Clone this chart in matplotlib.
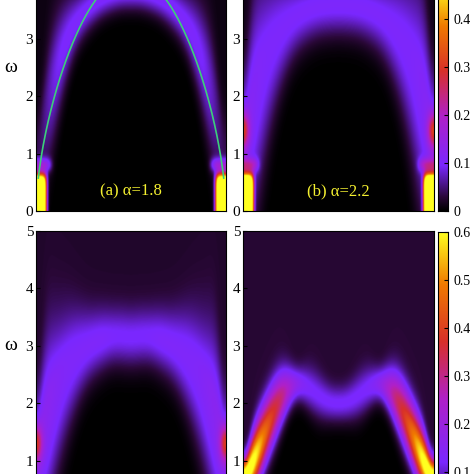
import numpy as np
import matplotlib
matplotlib.use("Agg")
import matplotlib.pyplot as plt
from matplotlib.colors import LinearSegmentedColormap

# ---- data (half-profiles, symmetric about k=0.5) ----
k_knots = [0.0, 0.05, 0.10, 0.15, 0.20, 0.25, 0.30, 0.35, 0.40, 0.45, 0.50]
# panel (a) alpha=1.8
a_center = [0.6, 1.55, 2.35, 2.9, 3.25, 3.45, 3.6, 3.7, 3.76, 3.8, 3.8]
a_width  = [0.15, 0.15, 0.16, 0.17, 0.18, 0.19, 0.2, 0.2, 0.2, 0.2, 0.2]
a_amp    = [0.02, 0.06, 0.09, 0.10, 0.10, 0.10, 0.10, 0.10, 0.10, 0.10, 0.10]
# panel (b) alpha=2.2
b_center = [0.9, 1.7, 2.35, 2.8, 3.1, 3.3, 3.42, 3.5, 3.55, 3.57, 3.58]
b_width  = [0.3, 0.32, 0.33, 0.34, 0.35, 0.35, 0.35, 0.35, 0.35, 0.35, 0.35]
b_amp    = [0.12, 0.11, 0.10, 0.10, 0.10, 0.10, 0.10, 0.10, 0.10, 0.10, 0.10]
# panel (c)
c_center = [0.7, 1.5, 2.0, 2.4, 2.7, 2.9, 3.02, 3.1, 3.15, 3.15, 3.12]
c_width  = [0.28, 0.3, 0.31, 0.32, 0.33, 0.34, 0.34, 0.34, 0.34, 0.34, 0.34]
c_amp    = [0.16, 0.15, 0.14, 0.13, 0.13, 0.13, 0.13, 0.13, 0.12, 0.12, 0.12]
# panel (d)
d_center = [0.55, 0.95, 1.35, 1.75, 2.1, 2.3, 2.35, 2.25, 2.1, 2.0, 1.98]
d_width  = [0.14, 0.14, 0.14, 0.15, 0.17, 0.2, 0.22, 0.22, 0.22, 0.22, 0.22]
d_amp    = [0.7, 0.65, 0.5, 0.38, 0.32, 0.2, 0.14, 0.12, 0.12, 0.12, 0.12]
bg_level = [0.01, 0.012, 0.03, 0.035]        # faint background above the band
corner_amp = [0.7, 0.7, 0.0, 0.0]            # yellow blocks at low omega, zone edges
edge_spot = [(0.0, 0.0), (1.4, 0.2), (1.3, 0.24), (0.0, 0.0)]  # (omega, intensity)
labels = ["(a) α=1.8", "(b) α=2.2", "", ""]
ymax = [4, 4, 5, 5]
yticks = [[0, 1, 2, 3], [0, 1, 2, 3], [1, 2, 3, 4, 5], [1, 2, 3, 4, 5]]
vmax_top, vmax_bot = 0.47, 0.6
cb_top_ticks = [0, 0.1, 0.2, 0.3, 0.4]
cb_bot_ticks = [0.1, 0.2, 0.3, 0.4, 0.5, 0.6]

cmap = LinearSegmentedColormap.from_list("pm", [
    (0.0, "#000000"), (0.06, "#2a0838"), (0.2, "#7a28ff"), (0.42, "#b020c8"),
    (0.62, "#d8302a"), (0.82, "#f07a00"), (1.0, "#ffff20")])

plt.rcParams["font.family"] = ["Liberation Serif", "DejaVu Serif"]

def smooth(y, n=15):
    k = np.exp(-0.5 * (np.arange(-3 * n, 3 * n + 1) / n) ** 2)
    k /= k.sum()
    yp = np.concatenate([y[3 * n:0:-1], y, y[-2:-3 * n - 2:-1]])
    return np.convolve(yp, k, mode="same")[3 * n:-3 * n]

def field(center, width, amp, bg, cam, spot):
    u = np.linspace(0.0, 1.0, 600)
    w = np.linspace(0, 5.2, 520)
    ud = np.minimum(u, 1 - u)
    c = smooth(np.interp(ud, k_knots, center))
    wd = smooth(np.interp(ud, k_knots, width))
    a = smooth(np.interp(ud, k_knots, amp))
    slope = smooth(np.gradient(c, u))
    scale = np.sqrt(1 + (slope / 3.3) ** 2)
    U, W = np.meshgrid(u, w)
    C = c[None, :]; S = (wd * scale)[None, :]
    I = a[None, :] * np.exp(-0.5 * ((W - C) / S) ** 2)
    I += bg * (1 / (1 + np.exp(-(W - C - 0.3) / 0.15)))
    UD = np.minimum(U, 1 - U)
    if cam > 0:
        I += cam * np.exp(-(UD / 0.055) ** 6) * (1 / (1 + np.exp((W - 0.62) / 0.05)))
        I += 0.12 * np.exp(-(UD / 0.08) ** 6) * np.exp(-((W - 0.8) / 0.12) ** 2)
    if spot[1] > 0:
        I += spot[1] * np.exp(-(UD / 0.03) ** 2 - ((W - spot[0]) / 0.3) ** 2)
    return I

H = 474.0
fig = plt.figure(figsize=(4.74, 4.74), dpi=100)
pos = [(36, 211, 190, 4), (243, 211, 191, 4), (36, 518, 190, 5), (243, 518, 191, 5)]
data = [(a_center, a_width, a_amp), (b_center, b_width, b_amp),
        (c_center, c_width, c_amp), (d_center, d_width, d_amp)]
for i, (x0, ybot, wpx, ym) in enumerate(pos):
    hpx = ym * 57.4
    ax = fig.add_axes([x0 / H, (H - ybot) / H, wpx / H, hpx / H])
    vmax = vmax_top if i < 2 else vmax_bot
    I = field(*data[i], bg_level[i], corner_amp[i], edge_spot[i])
    ax.imshow(I, origin="lower", extent=[0, 1, 0, 5.2], aspect="auto",
              cmap=cmap, vmin=0, vmax=vmax, interpolation="bilinear")
    ax.set_xlim(0, 1); ax.set_ylim(0, ym)
    ax.set_xticks([])
    ax.set_yticks(yticks[i])
    ax.tick_params(axis="y", direction="in", length=3, labelsize=11, pad=2, color="k")
    if i == 0:
        uu = np.linspace(0.012, 0.988, 300)
        ax.plot(uu, 4.1 * np.sin(np.pi * uu) ** 0.6, color="#3ccf7a", lw=1.2)
    if labels[i]:
        ax.text(0.5, 0.35, labels[i], color="#f4f030", fontsize=12,
                ha="center", va="center", transform=ax.transData)
    if i % 2 == 0:
        ax.text(-0.135, 2.5 if i == 0 else 3.0, "ω", fontsize=14,
                ha="center", va="center", transform=ax.transData)

# colorbars
for (ybot, vmax, ticks) in [(211, vmax_top, cb_top_ticks), (520, vmax_bot, cb_bot_ticks)]:
    hpx = vmax * 480
    cax = fig.add_axes([438 / H, (H - ybot) / H, 10 / H, hpx / H])
    grad = np.linspace(0, vmax, 256)[:, None]
    cax.imshow(grad, origin="lower", extent=[0, 1, 0, vmax], aspect="auto",
               cmap=cmap, vmin=0, vmax=vmax)
    cax.set_xticks([])
    cax.yaxis.tick_right()
    cax.set_yticks(ticks)
    cax.set_yticklabels([f"{t:g}" for t in ticks])
    cax.tick_params(axis="y", direction="in", length=3, labelsize=10, pad=4)

fig.savefig("out.png", dpi=100)
